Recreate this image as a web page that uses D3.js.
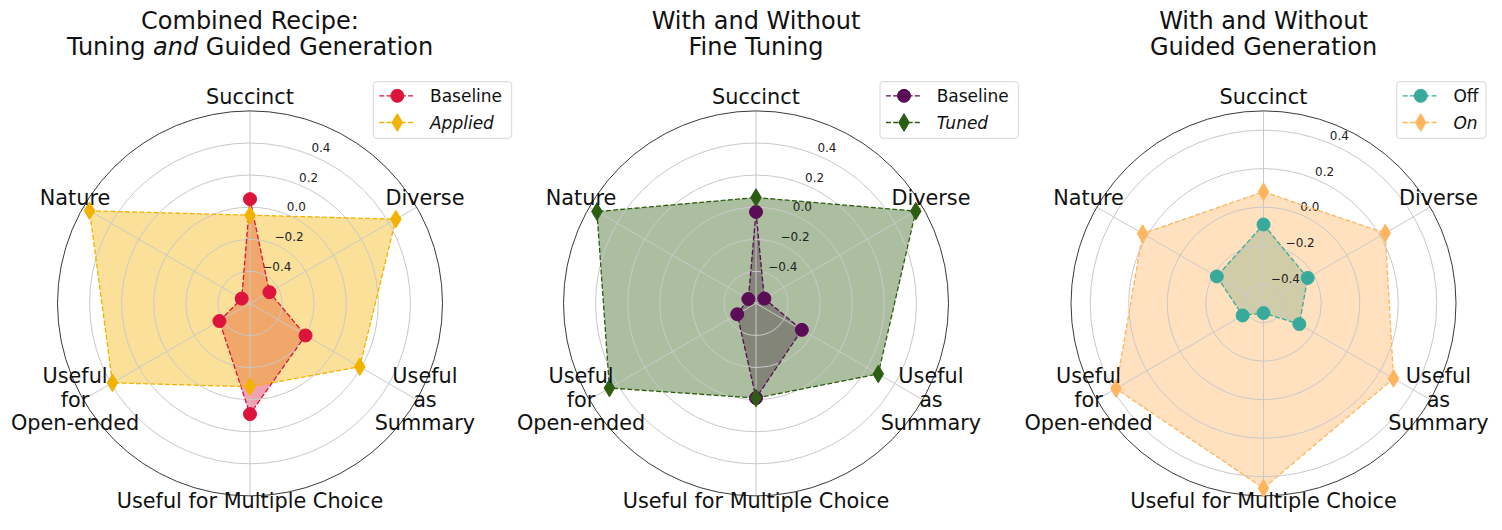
<!DOCTYPE html>
<html>
<head>
<meta charset="utf-8">
<script src="https://cdn.jsdelivr.net/npm/d3@7"></script>
<style>
  body { margin: 0; background: #fff; }
  svg { font-family: "DejaVu Sans", sans-serif; }
</style>
</head>
<body>
<div id="chart"></div>
<script>
/* DATA */
// axes go clockwise from the top
const categories = ["Succinct", "Diverse", "Useful\nas\nSummary", "Useful for Multiple Choice", "Useful\nfor\nOpen-ended", "Nature"];
const rTicks = [-0.4, -0.2, 0.0, 0.2, 0.4];

// combined recipe
const recipeBaseline = [0.05, -0.46, -0.20, 0.09, -0.38, -0.54];
const recipeApplied  = [-0.05, 0.45, 0.19, -0.08, 0.39, 0.555];

// fine tuning
const tuningBaseline = [-0.03, -0.54, -0.27, -0.01, -0.465, -0.545];
const tuningTuned    = [0.06, 0.55, 0.28, -0.01, 0.455, 0.545];

// guided generation
const guidedOff = [-0.09, -0.235, -0.285, -0.45, -0.375, -0.22];
const guidedOn  = [0.08, 0.23, 0.28, 0.46, 0.385, 0.225];

/* CONSTANTS */
const width = 1502, height = 530;
const cy = 303.4, R = 192.5, labelR = 202;

const panels = [
  {
    cx: 250,
    title: [[["Combined Recipe:", false]], [["Tuning ", false], ["and", true], [" Guided Generation", false]]],
    domain: [-0.6, 0.6],
    legendX: 373.3, legendW: 138.4,
    series: [
      {name: "Baseline", italic: false, color: "#dc143c", shape: "circle", values: recipeBaseline},
      {name: "Applied", italic: true, color: "#f2b200", shape: "diamond", values: recipeApplied}
    ]
  },
  {
    cx: 756,
    title: [[["With and Without", false]], [["Fine Tuning", false]]],
    domain: [-0.6, 0.6],
    legendX: 880, legendW: 138.4,
    series: [
      {name: "Baseline", italic: false, color: "#5a0c57", shape: "circle", values: tuningBaseline},
      {name: "Tuned", italic: true, color: "#2c5e12", shape: "diamond", values: tuningTuned}
    ]
  },
  {
    cx: 1263.5,
    title: [[["With and Without", false]], [["Guided Generation", false]]],
    domain: [-0.5, 0.5],
    legendX: 1396.7, legendW: 89.3,
    series: [
      {name: "Off", italic: false, color: "#38aa9c", shape: "circle", values: guidedOff},
      {name: "On", italic: true, color: "#ffb55e", shape: "diamond", values: guidedOn}
    ]
  }
];

const svg = d3.select("#chart").append("svg")
  .attr("width", width)
  .attr("height", height);

const angle = d3.scaleLinear()
  .domain([0, categories.length])
  .range([0, 2 * Math.PI]);

const fmt = d3.format(".1f");

function markerPath(shape) {
  if (shape === "circle") return d3.symbol(d3.symbolCircle, Math.PI * 6.5 * 6.5)();
  // thin diamond like matplotlib 'd'
  return "M0,-8.8L5.3,0L0,8.8L-5.3,0Z";
}

panels.forEach(p => {
  const r = d3.scaleLinear().domain(p.domain).range([0, R]);
  const g = svg.append("g").attr("transform", `translate(${p.cx},${cy})`);

  const radial = d3.lineRadial()
    .angle((d, i) => angle(i))
    .radius(d => r(d))
    .curve(d3.curveLinearClosed);

  // fills
  g.selectAll(".fill")
    .data(p.series)
    .join("path")
    .attr("class", "fill")
    .attr("d", s => radial(s.values))
    .attr("fill", s => s.color)
    .attr("fill-opacity", 0.4)
    .attr("stroke", "none");

  // grid circles
  g.selectAll(".grid")
    .data(rTicks)
    .join("circle")
    .attr("class", "grid")
    .attr("r", d => r(d))
    .attr("fill", "none")
    .attr("stroke", "#c9c9c9")
    .attr("stroke-width", 1);

  // spokes
  g.selectAll(".spoke")
    .data(categories)
    .join("line")
    .attr("class", "spoke")
    .attr("x2", (d, i) => R * Math.sin(angle(i)))
    .attr("y2", (d, i) => -R * Math.cos(angle(i)))
    .attr("stroke", "#c9c9c9")
    .attr("stroke-width", 1);

  // outer spine
  g.append("circle")
    .attr("r", r(p.domain[1]))
    .attr("fill", "none")
    .attr("stroke", "#3a3a3a")
    .attr("stroke-width", 1);

  // r tick labels at 22.5 deg
  const la = Math.PI / 8;
  g.selectAll(".rtick")
    .data(rTicks)
    .join("text")
    .attr("class", "rtick")
    .attr("x", d => r(d) * Math.sin(la))
    .attr("y", d => -r(d) * Math.cos(la) - 3)
    .attr("font-size", 12)
    .attr("fill", "#222")
    .text(d => fmt(d));

  // dashed lines
  g.selectAll(".line")
    .data(p.series)
    .join("path")
    .attr("class", "line")
    .attr("d", s => radial(s.values))
    .attr("fill", "none")
    .attr("stroke", s => s.color)
    .attr("stroke-width", 1.3)
    .attr("stroke-dasharray", "5,2.2");

  // markers
  p.series.forEach(s => {
    g.selectAll(null)
      .data(s.values)
      .join("path")
      .attr("d", markerPath(s.shape))
      .attr("transform", (d, i) => `translate(${r(d) * Math.sin(angle(i))},${-r(d) * Math.cos(angle(i))})`)
      .attr("fill", s.color)
      .attr("stroke", s.color)
      .attr("stroke-width", 1);
  });

  // category labels
  g.selectAll(".cat")
    .data(categories)
    .join("text")
    .attr("class", "cat")
    .attr("text-anchor", "middle")
    .attr("font-size", 20.8)
    .attr("fill", "#111")
    .each(function (d, i) {
      const lines = d.split("\n");
      const x = labelR * Math.sin(angle(i));
      const y = -labelR * Math.cos(angle(i));
      d3.select(this).selectAll("tspan")
        .data(lines)
        .join("tspan")
        .attr("x", x)
        .attr("y", (t, j) => y + 2.2 + (j - (lines.length - 1) / 2) * 23.4)
        .text(t => t);
    });

  // title
  const title = svg.append("text")
    .attr("text-anchor", "middle")
    .attr("font-size", 24)
    .attr("fill", "#111");
  p.title.forEach((line, j) => {
    const t = title.append("tspan")
      .attr("x", p.cx)
      .attr("y", j === 0 ? 29.3 : 55);
    line.forEach(([txt, it]) => {
      t.append("tspan")
        .attr("font-style", it ? "italic" : "normal")
        .text(txt);
    });
  });

  // legend
  const lg = svg.append("g").attr("transform", `translate(${p.legendX},81.7)`);
  lg.append("rect")
    .attr("width", p.legendW)
    .attr("height", 56.6)
    .attr("rx", 3)
    .attr("fill", "#fff")
    .attr("fill-opacity", 0.8)
    .attr("stroke", "#d6d6d6")
    .attr("stroke-width", 1);

  const rows = lg.selectAll(".row")
    .data(p.series)
    .join("g")
    .attr("class", "row")
    .attr("transform", (s, i) => `translate(0,${i === 0 ? 14.1 : 40.8})`);

  rows.append("line")
    .attr("x1", 6).attr("x2", 40.7)
    .attr("stroke", s => s.color)
    .attr("stroke-width", 1.3)
    .attr("stroke-dasharray", "5,2.2");

  rows.append("path")
    .attr("d", s => markerPath(s.shape))
    .attr("transform", "translate(24,0)")
    .attr("fill", s => s.color)
    .attr("stroke", s => s.color);

  rows.append("text")
    .attr("x", 56.7)
    .attr("y", 6)
    .attr("font-size", 17)
    .attr("font-style", s => s.italic ? "italic" : "normal")
    .attr("fill", "#111")
    .text(s => s.name);
});
</script>
</body>
</html>
